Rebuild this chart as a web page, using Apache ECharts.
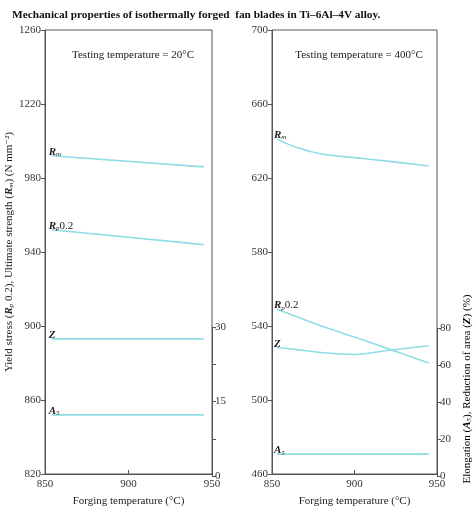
<!DOCTYPE html>
<html>
<head>
<meta charset="utf-8">
<script src="https://cdn.jsdelivr.net/npm/echarts@6/dist/echarts.min.js"></script>
<style>
  html, body { margin: 0; padding: 0; background: #fff; }
  #chart { width: 474px; height: 512px; }
</style>
</head>
<body>
<div id="chart"></div>
<script>
  // testing temperature = 20 C (left panel)
  const coldTemps = [854, 945]
  const coldRm = [992, 986]
  const coldRp = [952, 944]
  const coldZ = [27.6, 27.6]
  const coldA = [12.3, 12.3]

  // testing temperature = 400 C (right panel)
  const hotTemps = [853, 865, 880, 900, 921, 945]
  const hotRm = [641, 636.5, 633, 631, 629, 626.5]
  const hotRp = [549, 545, 540, 534, 527.5, 520]
  const hotZ = [69.5, 68.3, 66.7, 65.7, 68.0, 70.4]
  const hotA = [11.8, 11.8, 11.8, 11.8, 11.8, 11.8]

  // broken stress axis on the left panel
  const coldStressTicks = ['820', '860', '900', '940', '980', '1220', '1260']
  const xTicks = [850, 900, 950]

  const lineColor = '#8fdde6'
  const axisColor = '#555'
  const font = '"Liberation Serif", "DejaVu Serif", serif'

  const rich = {
    t: { fontFamily: font, fontSize: 11, color: '#222' },
    i: { fontFamily: font, fontSize: 11, fontStyle: 'italic', fontWeight: 'bold', color: '#222' },
    s: { fontFamily: font, fontSize: 7, fontStyle: 'italic', color: '#222', verticalAlign: 'bottom', padding: [5, 0, 0, 0] },
    n: { fontFamily: font, fontSize: 11, color: '#222' }
  }

  function pairs(xs, ys, text) {
    return xs.map((x, i) => {
      let item = { value: [x, ys[i]] }
      if (i === 0) {
        item.label = { show: true, formatter: text, position: 'top', distance: 0, align: 'left', offset: [-3, 2], rich: rich }
      }
      return item
    })
  }

  function line(name, xi, yi, data, smooth) {
    return {
      name: name,
      type: 'line',
      xAxisIndex: xi,
      yAxisIndex: yi,
      data: data,
      smooth: smooth ? 0.35 : false,
      symbol: 'circle',
      symbolSize: 0,
      showSymbol: true,
      lineStyle: { color: lineColor, width: 1.6 },
      itemStyle: { color: lineColor },
      label: { show: false },
      emphasis: { disabled: true },
      z: 3
    }
  }

  function xAxis(grid, show, name) {
    return {
      type: 'value',
      gridIndex: grid,
      min: 850,
      max: 950,
      interval: 50,
      show: show,
      name: name,
      nameLocation: 'middle',
      nameGap: 22,
      nameTextStyle: { fontFamily: font, fontSize: 11, color: '#222' },
      axisLine: { lineStyle: { color: axisColor } },
      axisTick: { inside: true, length: 4, lineStyle: { color: axisColor } },
      axisLabel: {
        fontFamily: font, fontSize: 11, color: '#333', margin: 5,
        formatter: v => xTicks.includes(v) ? String(v) : ''
      },
      splitLine: { show: false }
    }
  }

  const chart = echarts.init(document.getElementById('chart'))
  chart.setOption({
    backgroundColor: '#fff',
    animation: false,
    title: [
      {
        text: 'Mechanical properties of isothermally forged  fan blades in Ti–6Al–4V alloy.',
        left: 7, top: 5,
        textStyle: { fontFamily: font, fontSize: 11.3, fontWeight: 'bold', color: '#111' }
      },
      {
        text: 'Testing temperature = 20°C',
        left: 128, top: 45, textAlign: 'center',
        textStyle: { fontFamily: font, fontSize: 11, fontWeight: 'normal', color: '#222' }
      },
      {
        text: 'Testing temperature = 400°C',
        left: 354, top: 45, textAlign: 'center',
        textStyle: { fontFamily: font, fontSize: 11, fontWeight: 'normal', color: '#222' }
      }
    ],
    grid: [
      { left: 45, top: 30, width: 167, height: 446, show: true, borderColor: axisColor, borderWidth: 1 },
      { left: 45, top: 327, width: 167, height: 149 },
      { left: 272, top: 30, width: 165, height: 446, show: true, borderColor: axisColor, borderWidth: 1 },
      { left: 272, top: 328, width: 165, height: 148 }
    ],
    xAxis: [
      xAxis(0, true, 'Forging temperature (°C)'),
      xAxis(1, false, ''),
      xAxis(2, true, 'Forging temperature (°C)'),
      xAxis(3, false, '')
    ],
    yAxis: [
      {
        type: 'value', gridIndex: 0, min: 820, max: 1060, interval: 40,
        name: '{t|Yield stress (}{i|R}{s|p}{t| 0.2), Ultimate strength (}{i|R}{s|m}{t|) (N mm⁻²)}',
        nameLocation: 'middle', nameGap: 30, nameRotate: 90,
        nameTextStyle: { rich: rich },
        axisLine: { lineStyle: { color: axisColor } },
        axisTick: { length: 4, lineStyle: { color: axisColor } },
        axisLabel: {
          fontFamily: font, fontSize: 11, color: '#333', margin: 4,
          formatter: (v) => coldStressTicks[Math.round((v - 820) / 40)]
        },
        splitLine: { show: false }
      },
      {
        type: 'value', gridIndex: 1, position: 'right', min: 0, max: 30, interval: 7.5,
        axisLine: { lineStyle: { color: axisColor } },
        axisTick: { length: 4, lineStyle: { color: axisColor } },
        axisLabel: {
          fontFamily: font, fontSize: 11, color: '#333', margin: 3,
          formatter: v => (v % 15 === 0 ? String(v) : '')
        },
        splitLine: { show: false }
      },
      {
        type: 'value', gridIndex: 2, min: 460, max: 700, interval: 40,
        axisLine: { lineStyle: { color: axisColor } },
        axisTick: { length: 4, lineStyle: { color: axisColor } },
        axisLabel: { fontFamily: font, fontSize: 11, color: '#333', margin: 4 },
        splitLine: { show: false }
      },
      {
        type: 'value', gridIndex: 3, position: 'right', min: 0, max: 80, interval: 20,
        axisLine: { lineStyle: { color: axisColor } },
        axisTick: { length: 4, lineStyle: { color: axisColor } },
        axisLabel: { fontFamily: font, fontSize: 11, color: '#333', margin: 3 },
        splitLine: { show: false }
      }
    ],
    graphic: [
      {
        type: 'text',
        x: 467, y: 389,
        rotation: Math.PI / 2,
        style: {
          text: '{t|Elongation (}{i|A}{s|5}{t|), Reduction of area (}{i|Z}{t|) (%)}',
          rich: rich,
          align: 'center',
          verticalAlign: 'middle'
        }
      }
    ],
    series: [
      line('Rm 20', 0, 0, pairs(coldTemps, coldRm, '{i|R}{s|m}')),
      line('Rp 20', 0, 0, pairs(coldTemps, coldRp, '{i|R}{s|p}{n|0.2}')),
      line('Z 20', 1, 1, pairs(coldTemps, coldZ, '{i|Z}')),
      line('A5 20', 1, 1, pairs(coldTemps, coldA, '{i|A}{s|5}')),
      line('Rm 400', 2, 2, pairs(hotTemps, hotRm, '{i|R}{s|m}'), true),
      line('Rp 400', 2, 2, pairs(hotTemps, hotRp, '{i|R}{s|p}{n|0.2}'), true),
      line('Z 400', 3, 3, pairs(hotTemps, hotZ, '{i|Z}'), true),
      line('A5 400', 3, 3, pairs(hotTemps, hotA, '{i|A}{s|5}'))
    ]
  })
</script>
</body>
</html>
